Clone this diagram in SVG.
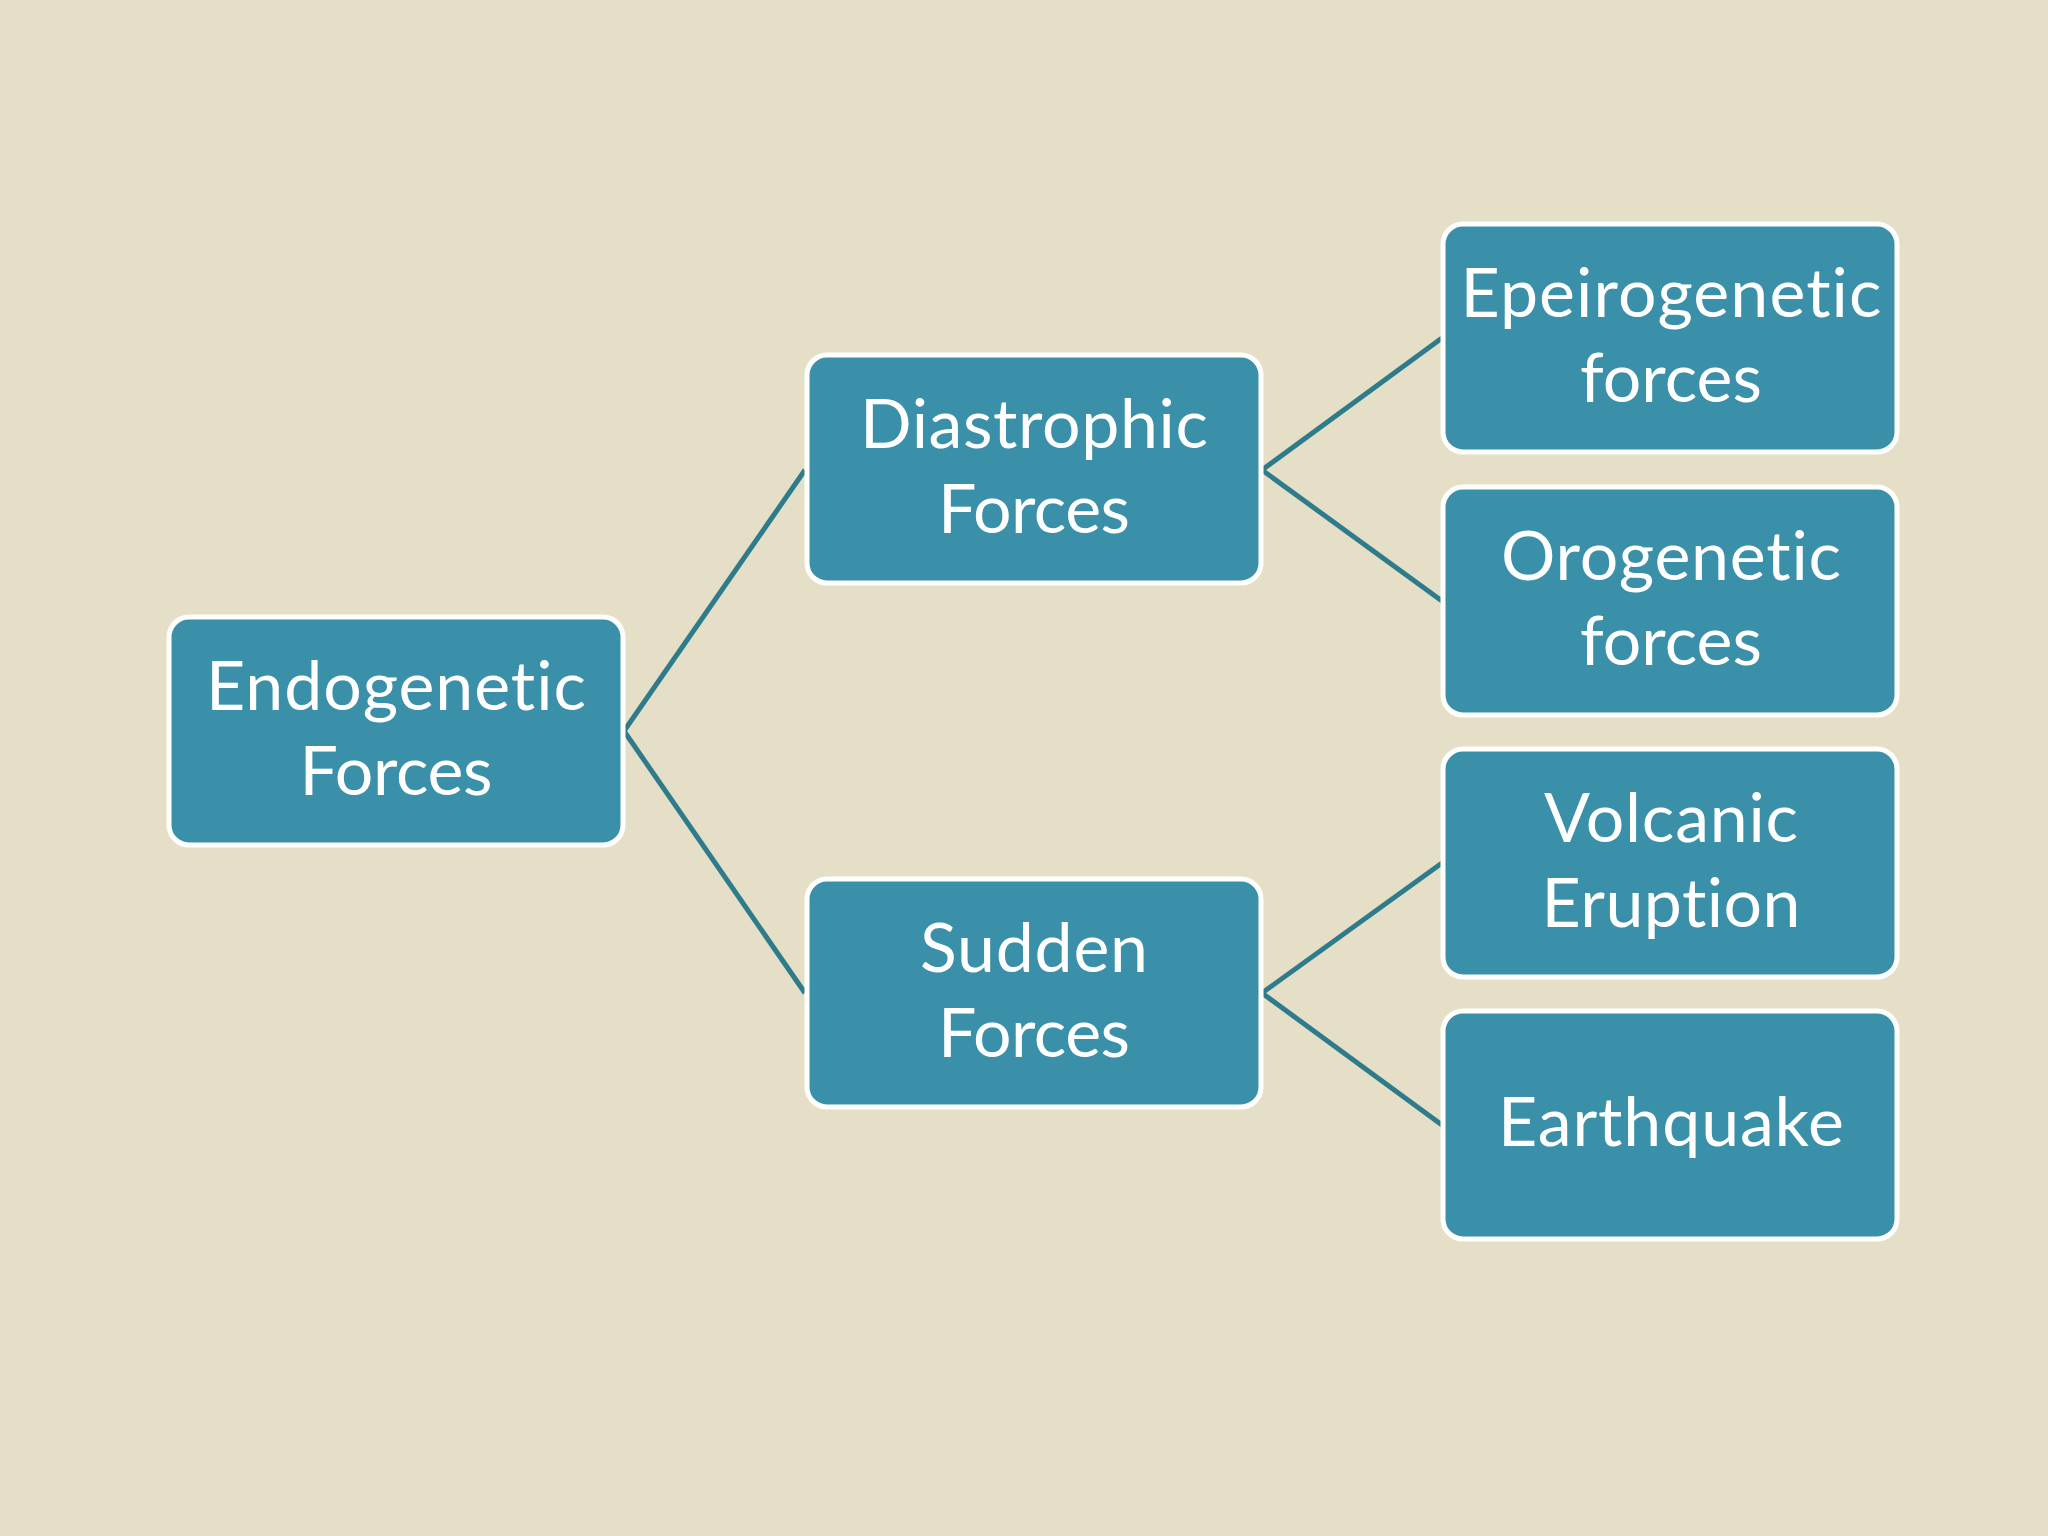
<svg xmlns="http://www.w3.org/2000/svg" width="2048" height="1536" viewBox="0 0 2048 1536">
<style>
.box{fill:#3A90A8;stroke:#FFFFFF;stroke-width:5}
.lbl{font-family:Lato,"Open Sans","DejaVu Sans",sans-serif;font-size:68px;fill:#FFFFFF;text-anchor:middle;font-variant-ligatures:none;font-feature-settings:"liga" 0,"clig" 0}
.conn{stroke:#2E7C8B;stroke-width:5;fill:none}
</style>
<rect width="2048" height="1536" fill="#E6DFC7"/>
<g id="connectors">
<polyline class="conn" points="805,470 624,731 805,993"/>
<polyline class="conn" points="1442,338 1262,470 1442,601"/>
<polyline class="conn" points="1442,863 1262,993 1442,1125"/>
</g>
<g id="endogenetic">
<rect class="box" x="169" y="617" width="454" height="228" rx="20"/>
<text class="lbl" x="396" y="710" textLength="380">Endogenetic</text>
<text class="lbl" x="396" y="795" textLength="193">Forces</text>
</g>
<g id="diastrophic">
<rect class="box" x="807" y="355" width="454" height="228" rx="20"/>
<text class="lbl" x="1034" y="448" textLength="348">Diastrophic</text>
<text class="lbl" x="1034" y="533" textLength="192">Forces</text>
</g>
<g id="sudden">
<rect class="box" x="807" y="879" width="454" height="228" rx="20"/>
<text class="lbl" x="1034" y="972" textLength="228">Sudden</text>
<text class="lbl" x="1034" y="1057" textLength="192">Forces</text>
</g>
<g id="epeirogenetic">
<rect class="box" x="1443" y="224" width="454" height="228" rx="20"/>
<text class="lbl" x="1671" y="317" textLength="421">Epeirogenetic</text>
<text class="lbl" x="1671" y="402" textLength="182">forces</text>
</g>
<g id="orogenetic">
<rect class="box" x="1443" y="487" width="454" height="228" rx="20"/>
<text class="lbl" x="1671" y="580" textLength="340">Orogenetic</text>
<text class="lbl" x="1671" y="665" textLength="182">forces</text>
</g>
<g id="volcanic">
<rect class="box" x="1443" y="749" width="454" height="228" rx="20"/>
<text class="lbl" x="1671" y="842" textLength="254">Volcanic</text>
<text class="lbl" x="1671" y="927" textLength="259">Eruption</text>
</g>
<g id="earthquake">
<rect class="box" x="1443" y="1011" width="454" height="228" rx="20"/>
<text class="lbl" x="1671" y="1146" textLength="346">Earthquake</text>
</g>
</svg>
